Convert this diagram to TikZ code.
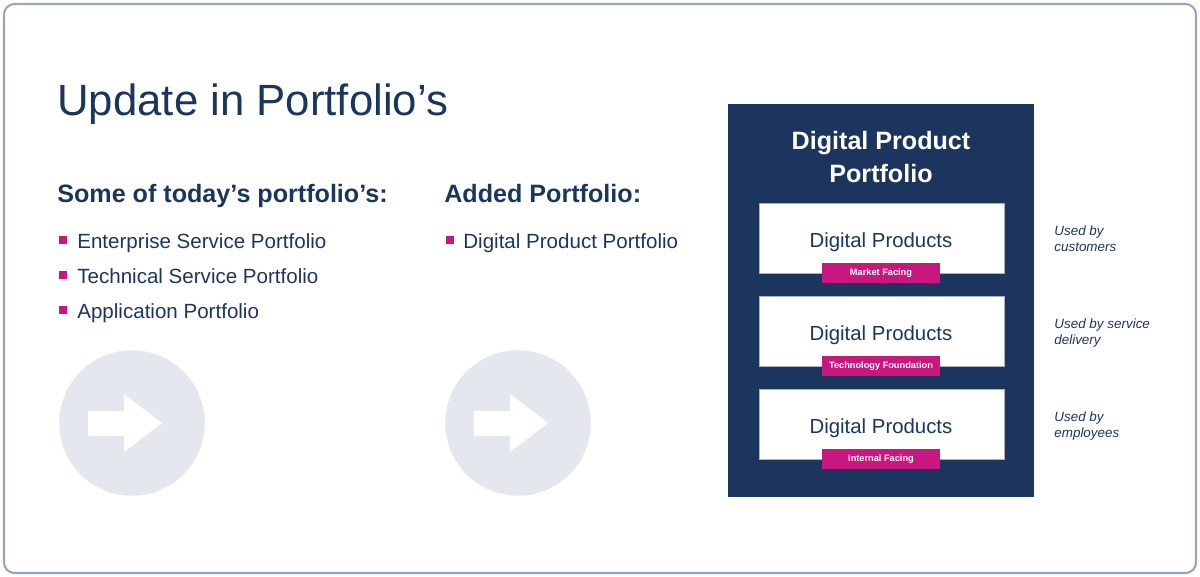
\documentclass[tikz,border=0pt]{standalone}
\usepackage{fontspec}
\setmainfont{Liberation Sans}
\usetikzlibrary{positioning}
\definecolor{navy}{HTML}{1B365D}
\definecolor{panelblue}{HTML}{1C355E}
\definecolor{pinkbar}{HTML}{C8187F}
\definecolor{discgray}{HTML}{E4E7EE}
\definecolor{frameblue}{HTML}{9BA4BF}
\definecolor{boxline}{HTML}{A9B0C6}

\tikzset{
  title/.style={anchor=base west, inner sep=0, text=navy, font=\fontsize{24.9}{30}\selectfont},
  heading/.style={anchor=base west, inner sep=0, text=navy, font=\fontsize{14.3}{17}\selectfont\bfseries},
  item/.style={anchor=base west, inner sep=0, text=navy, font=\fontsize{11.7}{14}\selectfont},
  bulletsq/.style={fill=pinkbar, minimum size=4.5pt, inner sep=0},
  disc/.style={circle, fill=discgray, minimum size=82.8pt, inner sep=0},
  paneltitle/.style={align=center, inner sep=0, text=white, font=\fontsize{14.3}{19.3}\selectfont\bfseries},
  prodbox/.style={fill=white, draw=boxline, line width=0.5pt},
  prodtext/.style={anchor=base, inner sep=0, text=navy, font=\fontsize{11.6}{14}\selectfont},
  tagbox/.style={fill=pinkbar, text=white, minimum width=67.5pt, minimum height=11.3pt, inner sep=0, font=\fontsize{5.25}{6}\selectfont\bfseries},
  note/.style={anchor=north west, align=left, inner sep=0, text=navy, font=\fontsize{7.65}{9.6}\selectfont\itshape}
}

\begin{document}
\begin{tikzpicture}[x=0.02cm,y=-0.02cm]
  \useasboundingbox (0,0) rectangle (1200,576);
  \draw[frameblue, line width=1.2pt, rounded corners=6] (4,4) rectangle (1196,573);

  \node[title] (title) at (57,115) {Update in Portfolio’s};
  \node[heading] (today) at (57,202) {Some of today’s portfolio’s:};
  \node[heading] (added) at (444,202) {Added Portfolio:};

  % bullets, left column
  \foreach \txt [count=\i] in {Enterprise Service Portfolio, Technical Service Portfolio, Application Portfolio} {
    \node[bulletsq] (sq\i) at (63,{240+35*(\i-1)}) {};
    \node[item] (it\i) at (77,{248+35*(\i-1)}) {\txt};
  }
  \node[bulletsq] (sqnew) at (450,240) {};
  \node[item] (itnew) at (463,248) {Digital Product Portfolio};

  % round arrows
  \foreach \cx [count=\i] in {132,518} {
    \node[disc] (go\i) at (\cx,423) {};
    \fill[white, shift={(go\i.center)}] (-44,-12) -- (-8,-12) -- (-8,-29) -- (30,0)
      -- (-8,29) -- (-8,13) -- (-44,13) -- cycle;
  }

  % panel
  \fill[panelblue] (728,104) rectangle (1034,497);
  \node[paneltitle] (ptitle) at (881,157) {Digital Product\\Portfolio};

  \foreach \y/\tag/\use [count=\i] in {203/Market Facing/Used by\\customers,
      296/Technology Foundation/Used by service\\delivery,
      389/Internal Facing/Used by\\employees} {
    \draw[prodbox] (759,\y) rectangle (1004,\y+70);
    \node[prodtext] (prod\i) at (881,\y+44) {Digital Products};
    \node[tagbox] (tag\i) at (881,\y+70) {\tag};
    \node[note] (use\i) at (1054,\y+22) {\use};
  }
\end{tikzpicture}
\end{document}
